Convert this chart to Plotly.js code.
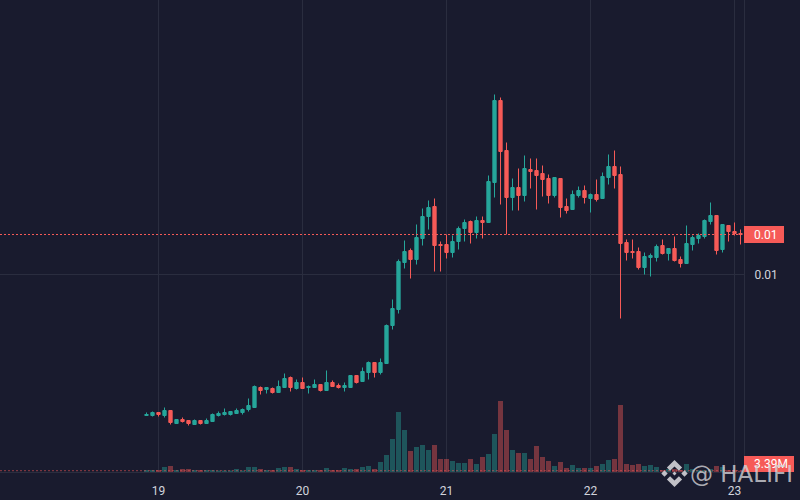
<!DOCTYPE html>
<html>
<head>
<meta charset="utf-8">
<script src="https://cdn.plot.ly/plotly-3.0.1.min.js"></script>
<style>html,body{margin:0;padding:0;background:#191b2e;overflow:hidden}</style>
</head>
<body>
<div id="chart" style="width:800px;height:500px"></div>
<script>
const opens = [.00295,.00295,.0031,.00295,.0032,.00255,.00275,.0027,.0025,.0027,.00255,.00265,.00295,.003,.003,.00305,.0031,.00325,.00335,.00435,
.00425,.0043,.0041,.00435,.00485,.0043,.0046,.00435,.00435,.0045,.0042,.0046,.00445,.00435,.00435,.00495,.00465,.0051,.0056,.0051,
.00555,.00745,.00825,.0106,.0112,.01075,.0118,.0129,.0134,.0115,.0115,.0111,.01165,.0123,.01265,.0121,.0127,.0126,.0146,.0187,
.0162,.01385,.01435,.01395,.01525,.0152,.01505,.0148,.01395,.0148,.0134,.01325,.01395,.0142,.0138,.014,.0138,.01485,.0154,.015,
.0116,.01115,.01115,.01035,.01085,.01085,.01145,.01105,.0113,.01075,.01055,.0115,.0118,.0119,.01265,.01295,.01125,.01245,.01215,.01205];
const highs = [.0031,.00315,.0031,.00335,.0032,.00275,.00285,.0027,.00275,.0027,.0028,.00305,.00315,.0033,.00315,.0033,.0033,.0038,.00445,.0044,
.00435,.00435,.0047,.00505,.0049,.00475,.00485,.00445,.00475,.0045,.0052,.0047,.00455,.0046,.00495,.00495,.00535,.00565,.0056,.0058,
.0075,.00875,.01075,.0117,.0113,.0125,.0133,.0137,.0138,.01165,.012,.01195,.0124,.01275,.0127,.0129,.0129,.01495,.019,.01885,
.0166,.0148,.0153,.01595,.0158,.0158,.01545,.015,.01485,.0148,.0138,.0142,.0144,.01445,.01405,.01475,.0151,.016,.0162,.0154,
.01175,.01175,.01135,.0111,.01105,.0115,.01175,.0113,.0119,.0109,.01245,.01195,.01205,.01275,.0136,.01295,.0125,.01245,.0126,.01225];
const lows = [.00295,.0029,.0029,.00285,.0025,.00255,.0026,.00245,.0025,.0025,.00255,.00265,.0029,.00295,.00295,.00305,.003,.00315,.00335,.004,
.00405,.00405,.0041,.00435,.00415,.00425,.0043,.00405,.00435,.00415,.0042,.0044,.0043,.00415,.00435,.00455,.00465,.00475,.00485,.005,
.00555,.00725,.00805,.0103,.0098,.0105,.01145,.01225,.01015,.01015,.0108,.01085,.01125,.01165,.01155,.0118,.0118,.0126,.01385,.0135,
.012,.0132,.0132,.01365,.0143,.01325,.0139,.01355,.01385,.01285,.01305,.01325,.01385,.01355,.0131,.01365,.0138,.0145,.0143,.0078,
.0107,.0108,.01025,.01,.0099,.01065,.011,.0107,.01065,.01035,.01055,.0112,.01155,.0118,.0125,.011,.0111,.01165,.01195,.0115];
const closes = [.003,.0031,.003,.0032,.0026,.00275,.00265,.00255,.0027,.00255,.0027,.003,.00305,.0031,.00315,.0032,.00325,.00345,.0044,.0042,
.00435,.0041,.0044,.0048,.00435,.0046,.0043,.0044,.0045,.0042,.0046,.0044,.00435,.00445,.00495,.0046,.00515,.0056,.0051,.0056,
.00745,.0083,.01065,.01115,.01075,.01185,.0129,.01335,.01145,.01145,.0111,.01165,.0123,.0126,.0121,.0127,.0126,.01465,.0187,.01615,
.01385,.01435,.01395,.0153,.01515,.01495,.01475,.01395,.01485,.01335,.0132,.014,.0142,.01385,.014,.01375,.0149,.0154,.01495,.01155,
.0111,.0111,.01035,.0109,.01095,.0114,.01105,.0113,.0107,.01055,.01155,.01185,.01195,.0127,.01295,.0112,.0125,.01215,.01205,.012];
const volumesM = [5.2,5.2,5.2,13,15.6,5.2,7.8,7.8,5.2,5.2,5.2,5.2,3.9,3.9,3.9,7.8,3.9,13,13,7.8,
5.2,5.2,10.4,13,13,7.8,5.2,5.2,5.2,5.2,10.4,5.2,5.2,10.4,7.8,7.8,13,15.6,7.8,26,
44.2,85.8,156,109.2,54.6,65,70.2,57.2,70.2,33.8,33.8,28.6,23.4,23.4,33.8,20.8,39,46.8,98.8,184.6,
109.2,57.2,49.4,49.4,33.8,67.6,39,28.6,15.6,26,10.4,18.2,10.4,10.4,10.4,15.6,20.8,31.2,33.8,174.2,
20.8,18.2,20.8,15.6,18.2,13,5.2,7.8,7.8,5.2,20.8,7.8,5.2,5.2,7.8,15.6,13,5.2,5.2,3.39];
const dayTickIndex = [2,26,50,74,98];
const dayTickLabels = ['19','20','21','22','23'];
const priceTicks = [0.01];
const priceTickLabels = ['0.01'];
const lastPriceLabel = '0.01';
const lastVolumeLabel = '3.39M';
const watermark = '@ HALIFI';

const GREEN = '#26a69a', RED = '#f65a57', BG = '#191b2e', GRID = '#2a2d3f', TXT = '#d1d4dc';
const index = opens.map((_, i) => i);
const lastClose = closes[closes.length - 1];
const lastVol = volumesM[volumesM.length - 1];
const volColors = opens.map((o, i) => closes[i] >= o ? 'rgba(38,166,154,0.42)' : 'rgba(246,90,87,0.42)');

// pixel helpers for the page furniture (plot area is 744 x 472)
const W = 744, H = 472;
const px = x => x / W, py = y => 1 - y / H;
function poly(points, cx, cy) {
  return 'M' + points.map(p => px(cx + p[0]) + ',' + py(cy + p[1])).join('L') + 'Z';
}
const lg = 'rgba(212,212,216,0.9)';
function logo(cx, cy) {
  const pieces = [
    [[0,-13.5],[7.6,-5.9],[4.4,-2.7],[0,-7.1],[-4.4,-2.7],[-7.6,-5.9]],
    [[0,13.5],[7.6,5.9],[4.4,2.7],[0,7.1],[-4.4,2.7],[-7.6,5.9]],
    [[-10,-3.2],[-6.8,0],[-10,3.2],[-13.2,0]],
    [[10,-3.2],[13.2,0],[10,3.2],[6.8,0]],
    [[0,-2],[2,0],[0,2],[-2,0]]
  ];
  return pieces.map(p => ({type:'path', xref:'paper', yref:'paper', path:poly(p,cx,cy), fillcolor:lg, line:{width:0}, layer:'above'}));
}

const traces = [
  {type:'bar', x:index, y:volumesM, yaxis:'y', xaxis:'x', width:0.84, marker:{color:volColors, line:{width:0}}, hoverinfo:'skip', showlegend:false},
  {type:'candlestick', x:index, open:opens, high:highs, low:lows, close:closes, xaxis:'x', yaxis:'y2',
   increasing:{line:{color:GREEN,width:1},fillcolor:GREEN}, decreasing:{line:{color:RED,width:1},fillcolor:RED},
   whiskerwidth:0, hoverinfo:'skip', showlegend:false}
];

const layout = {
  width:800, height:500, autosize:false,
  margin:{l:0,r:56,t:0,b:28,pad:0},
  paper_bgcolor:BG, plot_bgcolor:BG, showlegend:false, dragmode:false, boxgap:0.45, boxgroupgap:0,
  xaxis:{type:'linear', range:[-24.417,99.583], tickmode:'array', tickvals:dayTickIndex, ticktext:dayTickLabels,
    showgrid:true, gridcolor:GRID, gridwidth:1, zeroline:false, showline:true, linecolor:GRID, linewidth:1,
    ticks:'outside', ticklen:8, tickcolor:'rgba(0,0,0,0)', tickfont:{family:'Roboto, sans-serif', size:12, color:TXT}, rangeslider:{visible:false}},
  yaxis:{range:[0,1227.2], visible:false, fixedrange:true},
  yaxis2:{overlaying:'y', side:'right', range:[0.000125,0.023725], tickmode:'array', tickvals:priceTicks, ticktext:priceTickLabels,
    showgrid:true, gridcolor:GRID, gridwidth:1, zeroline:false, showline:true, linecolor:GRID, linewidth:1,
    ticks:'outside', ticklen:7, tickcolor:'rgba(0,0,0,0)', tickfont:{family:'Roboto, sans-serif', size:12, color:TXT}},
  shapes:[
    {type:'line', xref:'paper', x0:0, x1:1, yref:'y2', y0:lastClose, y1:lastClose, line:{color:RED,width:1,dash:'2px,2px'}, layer:'above'},
    {type:'line', xref:'paper', x0:0, x1:1, yref:'y', y0:lastVol, y1:lastVol, line:{color:'rgba(246,90,87,0.55)',width:1,dash:'2px,2px'}, layer:'above'},
    {type:'rect', xref:'paper', yref:'paper', x0:px(744), x1:px(784), y0:py(243), y1:py(226), fillcolor:RED, line:{width:0}, layer:'above'},
    {type:'rect', xref:'paper', yref:'paper', x0:px(744), x1:px(794), y0:py(472), y1:py(456), fillcolor:RED, line:{width:0}, layer:'above'},
    ...logo(674.5, 473.5)
  ],
  annotations:[
    {xref:'paper', yref:'y2', x:px(765.5), y:lastClose, xanchor:'center', yanchor:'middle', text:lastPriceLabel, showarrow:false,
     font:{family:'Roboto, sans-serif', size:12, color:'#ffffff'}},
    {xref:'paper', yref:'paper', x:px(771), y:py(464), xanchor:'center', yanchor:'middle', text:lastVolumeLabel, showarrow:false,
     font:{family:'Roboto, sans-serif', size:12, color:'#ffffff'}},
    {xref:'paper', yref:'paper', x:px(688), y:py(474), xanchor:'left', yanchor:'middle', text:watermark, showarrow:false,
     font:{family:'"DejaVu Sans", sans-serif', size:23, color:'rgba(212,212,216,0.8)'}}
  ]
};
Plotly.newPlot('chart', traces, layout, {staticPlot:true, displayModeBar:false});
</script>
</body>
</html>
